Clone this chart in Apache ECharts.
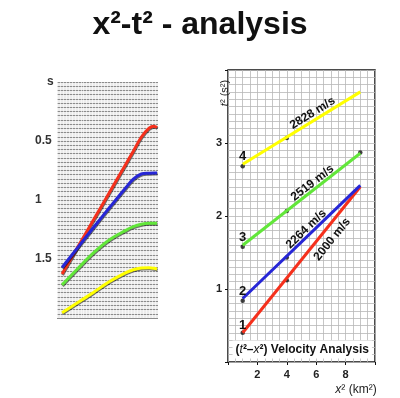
<!DOCTYPE html>
<html><head><meta charset="utf-8">
<script src="https://cdn.jsdelivr.net/npm/echarts@6/dist/echarts.min.js"></script>
<style>html,body{margin:0;padding:0;background:#fff}#c{width:400px;height:398px}</style>
</head><body><div id="c"></div>
<script>
// ---- Left panel: reflection picks on the gather (offset in km, time in s) ----
const offsets = [3.0, 2.5, 2.0, 1.5, 1.0, 0.75, 0.5, 0.25, 0.1, 0.0];
const curve1 = [1.628, 1.397, 1.166, 0.934, 0.703, 0.587, 0.468, 0.391, 0.374, 0.386];
const curve2 = [1.572, 1.401, 1.231, 1.064, 0.900, 0.824, 0.780, 0.773, 0.772, 0.772];
const curve3 = [1.719, 1.580, 1.446, 1.337, 1.259, 1.226, 1.205, 1.197, 1.197, 1.197];
const curve4 = [1.955, 1.869, 1.781, 1.691, 1.617, 1.591, 1.577, 1.574, 1.579, 1.586];
const timeTicks = [0, 0.5, 1, 1.5];
const timeTickLabels = ['s', '0.5', '1', '1.5'];
// ---- Right panel: x^2 - t^2 lines ----
const x2 = [1, 9];
const line1 = [0.40, 2.40];
const line2 = [0.87, 2.42];
const line3 = [1.60, 2.86];
const line4 = [2.71, 3.70];
const dotsX = [1, 1, 1, 1, 4, 4, 4, 4, 9];
const dotsY = [0.40, 0.84, 1.58, 2.68, 1.12, 1.43, 2.07, 3.07, 2.87];
const velocities = ['2000 m/s', '2264 m/s', '2519 m/s', '2828 m/s'];
const reflectorNames = ['1', '2', '3', '4'];
const xTickLabels = [2, 4, 6, 8];
const yTickLabels = [1, 2, 3];

const colors = ['#f5301c', '#2626d6', '#62e63a', '#ffff00'];
const FONT = 'Liberation Sans, Arial, sans-serif';

const chart = echarts.init(document.getElementById('c'), null, {renderer: 'canvas'});

const leftCurves = [curve1, curve2, curve3, curve4];
const rightLines = [line1, line2, line3, line4];

const series = [];
leftCurves.forEach((c, k) => {
  series.push({
    type: 'line', xAxisIndex: 0, yAxisIndex: 0, smooth: 0.35, symbol: 'none', z: 5,
    lineStyle: {color: colors[k], width: 3, shadowColor: 'rgba(0,0,0,0.55)', shadowOffsetY: 1, shadowOffsetX: 0.5, shadowBlur: 0},
    data: offsets.map((o, i) => i === 7 ? {value: [o, c[i]], label: {show: true, formatter: reflectorNames[k], position: 'top', distance: 4, fontSize: 13, fontWeight: 'bold', color: '#111', fontFamily: FONT}} : [o, c[i]])
  });
});
rightLines.forEach((l, k) => {
  series.push({
    type: 'line', xAxisIndex: 2, yAxisIndex: 1, symbol: 'circle', symbolSize: 0.1, z: 5,
    lineStyle: {color: colors[k], width: 3},
    itemStyle: {color: colors[k]},
    data: x2.map((x, i) => i === 0 ? {value: [x, l[i]], label: {show: true, formatter: reflectorNames[k], position: 'top', distance: 1, fontSize: 13, fontWeight: 'bold', color: '#111', fontFamily: FONT}} : [x, l[i]])
  });
});
series.push({
  type: 'scatter', xAxisIndex: 2, yAxisIndex: 1, symbolSize: 4.5, z: 4,
  itemStyle: {color: '#111'},
  data: dotsX.map((x, i) => [x, dotsY[i]])
});

const boldLabel = {fontFamily: FONT, fontWeight: 'bold', fontSize: 11, color: '#222'};

const option = {
  animation: false,
  backgroundColor: '#fff',
  grid: [
    {left: 57, top: 82, width: 101, height: 236, show: true, backgroundColor: '#ececec', borderWidth: 0},
    {left: 228, top: 70, width: 147, height: 292, show: true, backgroundColor: '#fff', borderColor: '#111', borderWidth: 1.5}
  ],
  xAxis: [
    {gridIndex: 0, type: 'value', inverse: true, min: -0.03, max: 3.16, show: false},
    {gridIndex: 0, type: 'value', min: 0, max: 34, interval: 1, axisLine: {show: false}, axisTick: {show: false}, axisLabel: {show: false},
      splitLine: {show: true, lineStyle: {color: 'rgba(255,255,255,0.6)', width: 1}}},
    {gridIndex: 1, type: 'value', min: 0, max: 10, interval: 2,
      axisLine: {show: false}, axisTick: {show: true, length: 3, lineStyle: {color: '#111'}},
      axisLabel: Object.assign({margin: 7, formatter: v => xTickLabels.indexOf(v) >= 0 ? String(v) : ''}, boldLabel),
      splitLine: {show: true, lineStyle: {color: '#b8b8b8', width: 0.8}},
      minorTick: {show: false, splitNumber: 4},
      minorSplitLine: {show: true, lineStyle: {color: '#b8b8b8', width: 0.8}}}
  ],
  yAxis: [
    {gridIndex: 0, type: 'value', inverse: true, min: 0, max: 2, interval: 0.5,
      axisLine: {show: false}, axisTick: {show: false},
      axisLabel: {align: 'left', margin: 22, fontFamily: FONT, fontWeight: 'bold', fontSize: 12, color: '#333',
        formatter: v => { const i = timeTicks.indexOf(v); if (i < 0) return ''; return i === 0 ? '{s|' + timeTickLabels[0] + '}' : timeTickLabels[i]; },
        rich: {s: {padding: [0, 0, 0, 12], fontFamily: FONT, fontWeight: 'bold', fontSize: 12, color: '#333'}}},
      splitLine: {show: true, lineStyle: {color: '#8c8c8c', width: 1}},
      minorTick: {show: false, splitNumber: 14},
      minorSplitLine: {show: true, lineStyle: {color: '#8c8c8c', width: 1}}},
    {gridIndex: 1, type: 'value', min: 0, max: 4, interval: 1,
      axisLine: {show: false}, axisTick: {show: true, length: 3, lineStyle: {color: '#111'}},
      axisLabel: Object.assign({margin: 6, formatter: v => yTickLabels.indexOf(v) >= 0 ? String(v) : ''}, boldLabel),
      splitLine: {show: true, lineStyle: {color: '#b8b8b8', width: 0.8}},
      minorTick: {show: false, splitNumber: 10},
      minorSplitLine: {show: true, lineStyle: {color: '#b8b8b8', width: 0.8}}}
  ],
  series: series
};
chart.setOption(option);

// ---- text annotations placed through the axes ----
const g = [];
g.push({type: 'text', id: 'title', x: 200, y: 25, z: 100, style: {text: 'x²-t² - analysis', font: 'bold 32px ' + FONT, fill: '#111', textAlign: 'center', textVerticalAlign: 'middle'}});
g.push({type: 'text', id: 'yname', x: 225, y: 93, rotation: Math.PI / 2, z: 100, style: {
  text: '{i|t}{n|² (s²)}', textAlign: 'center', textVerticalAlign: 'middle',
  rich: {i: {fontFamily: FONT, fontStyle: 'italic', fontSize: 11, fill: '#222'}, n: {fontFamily: FONT, fontSize: 11, fill: '#222'}}}});
g.push({type: 'text', id: 'xname', x: 356, y: 390, z: 100, style: {
  text: '{i|x}{n|² (km²)}', textAlign: 'center', textVerticalAlign: 'middle',
  rich: {i: {fontFamily: FONT, fontStyle: 'italic', fontSize: 12, fill: '#222'}, n: {fontFamily: FONT, fontSize: 12, fill: '#222'}}}});
const capPt = chart.convertToPixel({xAxisIndex: 2, yAxisIndex: 1}, [5.05, 0.17]);
g.push({type: 'text', id: 'cap', x: capPt[0], y: capPt[1], z: 100, style: {
  text: '{n|(}{i|t}{n|²–}{i|x}{n|²) Velocity Analysis}', textAlign: 'center', textVerticalAlign: 'middle',
  backgroundColor: '#fff', padding: [3, 3, 3, 3],
  rich: {i: {fontFamily: FONT, fontStyle: 'italic', fontSize: 12, fill: '#111'}, n: {fontFamily: FONT, fontWeight: 'bold', fontSize: 12, fill: '#111'}}}});

const anchors = [6.5, 5.6, 6.0, 6.0];
const dists = [-11, 6, 6, 7];
rightLines.forEach((l, k) => {
  const p0 = chart.convertToPixel({xAxisIndex: 2, yAxisIndex: 1}, [x2[0], l[0]]);
  const p1 = chart.convertToPixel({xAxisIndex: 2, yAxisIndex: 1}, [x2[1], l[1]]);
  const a = Math.atan2(p0[1] - p1[1], p1[0] - p0[0]);
  const t = (anchors[k] - x2[0]) / (x2[1] - x2[0]);
  const ax = p0[0] + t * (p1[0] - p0[0]);
  const ay = p0[1] + t * (p1[1] - p0[1]);
  const nx = -Math.sin(a), ny = -Math.cos(a);
  g.push({type: 'text', id: 'v' + k, x: ax + dists[k] * nx, y: ay + dists[k] * ny, rotation: a, z: 100,
    style: {text: velocities[k], font: 'bold 12px ' + FONT, fill: '#111', textAlign: 'center', textVerticalAlign: 'middle'}});
});
chart.setOption({graphic: g});
</script></body></html>
